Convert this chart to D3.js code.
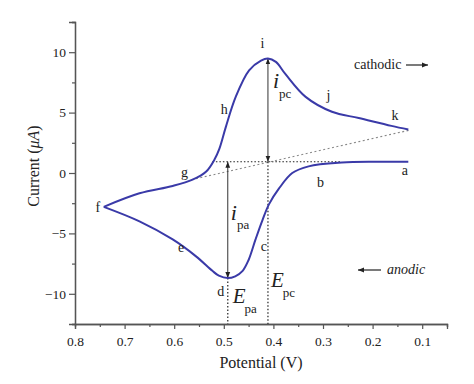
<!DOCTYPE html>
<html>
<head>
<meta charset="utf-8">
<script src="https://cdn.jsdelivr.net/npm/d3@7"></script>
<style>
  body { margin: 0; background: #fff; }
  svg text { font-family: "Liberation Serif", "DejaVu Serif", serif !important; fill: #222; }
</style>
</head>
<body>
<svg id="chart" width="474" height="384"></svg>
<script>
// scan from a (right) to the switching point f (left)
const lowerV = [0.128, 0.195, 0.262, 0.329, 0.362, 0.389, 0.409, 0.422, 0.436, 0.450, 0.462, 0.477, 0.492, 0.510, 0.523, 0.556, 0.603, 0.670, 0.742];
const lowerI = [0.93, 0.93, 0.86, 0.55, 0.0, -1.3, -2.6, -3.9, -5.5, -7.2, -8.1, -8.55, -8.7, -8.5, -8.1, -6.9, -5.5, -4.0, -2.8];
// reverse scan from f back to k
const upperV = [0.742, 0.670, 0.603, 0.563, 0.536, 0.519, 0.509, 0.496, 0.476, 0.449, 0.425, 0.411, 0.395, 0.376, 0.335, 0.282, 0.228, 0.162, 0.128];
const upperI = [-2.8, -1.68, -1.07, -0.55, 0.1, 1.1, 2.0, 3.8, 6.3, 8.5, 9.3, 9.48, 9.2, 8.2, 6.3, 5.07, 4.55, 3.9, 3.6];

const xTicks = [0.8, 0.7, 0.6, 0.5, 0.4, 0.3, 0.2, 0.1];
const xMinor = [0.75, 0.65, 0.55, 0.45, 0.35, 0.25, 0.15, 0.05];
const yTicks = [10, 5, 0, -5, -10];
const yMinor = [12.5, 7.5, 2.5, -2.5, -7.5, -12.5];

// peak values
const Epa = 0.492, ipaPeak = -8.7;
const Epc = 0.411, ipcPeak = 9.48;
const baseI = 0.93;
const baseRange = [0.523, 0.262];
const slopeLine = [[0.565, -0.55], [0.125, 3.55]];

const pointLabels = [
  ["a", 0.135, 0.25], ["b", 0.305, -0.72], ["c", 0.419, -6.09], ["d", 0.506, -9.81],
  ["e", 0.586, -6.14], ["f", 0.754, -2.79], ["g", 0.579, 0.08], ["h", 0.499, 5.33],
  ["i", 0.422, 10.74], ["j", 0.289, 6.45], ["k", 0.155, 4.79]
];

let svg = d3.select('#chart');
let margin = {left: 75, right: 27, top: 22, bottom: 60};
let W = 474, H = 384;
let serif = '"Liberation Serif", "DejaVu Serif", serif';

let x = d3.scaleLinear().domain([0.8, 0.05]).range([margin.left, W - margin.right]);
let y = d3.scaleLinear().domain([-12.5, 12.5]).range([H - margin.bottom, margin.top]);

// arrow heads
let defs = svg.append('defs');
['start', 'end'].forEach(function(k){
    defs.append('marker')
        .attr('id', 'arr-' + k)
        .attr('viewBox', '0 0 10 10')
        .attr('refX', k === 'end' ? 10 : 0)
        .attr('refY', 5)
        .attr('markerWidth', 6)
        .attr('markerHeight', 6)
        .attr('markerUnits', 'userSpaceOnUse')
        .attr('orient', 'auto')
        .append('path')
        .attr('d', k === 'end' ? 'M0,1 L10,5 L0,9 Z' : 'M10,1 L0,5 L10,9 Z')
        .attr('fill', '#222');
});

// axes
let axisColor = '#555';
let xAxis = svg.append('g').attr('transform', `translate(0,${y(-12.5)})`)
    .call(d3.axisBottom(x).tickValues(xTicks).tickSize(5).tickFormat(d3.format('.1f')));
let xAxisMinor = svg.append('g').attr('transform', `translate(0,${y(-12.5)})`)
    .call(d3.axisBottom(x).tickValues(xMinor).tickSize(3).tickFormat(''));
let yAxis = svg.append('g').attr('transform', `translate(${x(0.8)},0)`)
    .call(d3.axisLeft(y).tickValues(yTicks).tickSize(6));
let yAxisMinor = svg.append('g').attr('transform', `translate(${x(0.8)},0)`)
    .call(d3.axisLeft(y).tickValues(yMinor).tickSize(3).tickFormat(''));

[xAxis, xAxisMinor, yAxis, yAxisMinor].forEach(function(g){
    g.attr('font-family', serif);
    g.select('.domain').attr('stroke', axisColor).attr('stroke-width', 1.3);
    g.selectAll('.tick line').attr('stroke', axisColor).attr('stroke-width', 1.2);
    g.selectAll('.tick text')
        .style('font-family', serif)
        .attr('font-size', 13.5)
        .attr('fill', '#333');
});
xAxis.selectAll('.tick text').attr('dy', '1.05em');
yAxis.selectAll('.tick text').attr('x', -9);

// axis titles
svg.append('text')
    .attr('x', (x(0.8) + x(0.05)) / 2)
    .attr('y', 368)
    .attr('text-anchor', 'middle')
    .attr('font-size', 16)
    .text('Potential (V)');

let yt = svg.append('text')
    .attr('transform', `translate(39,166) rotate(-90)`)
    .attr('text-anchor', 'middle')
    .attr('font-size', 16);
yt.append('tspan').text('Current (');
yt.append('tspan').attr('font-style', 'italic').text('\u03bcA');
yt.append('tspan').text(')');

// baselines
svg.append('line')
    .attr('x1', x(baseRange[0])).attr('x2', x(baseRange[1]))
    .attr('y1', y(baseI)).attr('y2', y(baseI))
    .attr('stroke', '#222').attr('stroke-width', 1.2).attr('stroke-dasharray', '1.5,2');
svg.append('line')
    .attr('x1', x(slopeLine[0][0])).attr('y1', y(slopeLine[0][1]))
    .attr('x2', x(slopeLine[1][0])).attr('y2', y(slopeLine[1][1]))
    .attr('stroke', '#888').attr('stroke-width', 1.1).attr('stroke-dasharray', '2,2.5');

// vertical dotted lines down to the axis
[[Epa, ipaPeak], [Epc, baseI]].forEach(function(p){
    svg.append('line')
        .attr('x1', x(p[0])).attr('x2', x(p[0]))
        .attr('y1', y(p[1])).attr('y2', y(-12.5))
        .attr('stroke', '#333').attr('stroke-width', 1.3).attr('stroke-dasharray', '1.5,2');
});

// peak current arrows
[[Epc, baseI, ipcPeak], [Epa, baseI, ipaPeak]].forEach(function(p){
    svg.append('line')
        .attr('x1', x(p[0])).attr('x2', x(p[0]))
        .attr('y1', y(p[1])).attr('y2', y(p[2]))
        .attr('stroke', '#333').attr('stroke-width', 1)
        .attr('marker-start', 'url(#arr-start)')
        .attr('marker-end', 'url(#arr-end)');
});

// the voltammogram
let line = d3.line()
    .x(d => x(d[0]))
    .y(d => y(d[1]))
    .curve(d3.curveCatmullRom.alpha(0.5));
let lower = lowerV.map((v, i) => [v, lowerI[i]]);
let upper = upperV.map((v, i) => [v, upperI[i]]);
svg.append('g').selectAll('path')
    .data([lower, upper])
    .enter()
    .append('path')
    .attr('d', line)
    .attr('fill', 'none')
    .attr('stroke', '#3a3aa8')
    .attr('stroke-width', 2)
    .attr('stroke-linejoin', 'miter');

// point letters
svg.append('g').selectAll('text')
    .data(pointLabels)
    .enter()
    .append('text')
    .attr('x', d => x(d[1]))
    .attr('y', d => y(d[2]))
    .attr('dy', '0.35em')
    .attr('text-anchor', 'middle')
    .attr('font-size', 14)
    .text(d => d[0]);

// i_pc, i_pa, E_pa, E_pc labels
function subLabel(main, sub, px, py, big, small, dx, dy){
    let t = svg.append('text').attr('x', px).attr('y', py);
    t.append('tspan').attr('font-style', 'italic').attr('font-size', big).text(main);
    t.append('tspan').attr('font-size', small).attr('dx', dx).attr('dy', dy).text(sub);
}
subLabel('i', 'pc', x(Epc) + 5, y(7.0), 22, 13, 0, 10);
subLabel('i', 'pa', x(Epa) + 3, y(-3.9), 22, 13, 0, 9);
subLabel('E', 'pa', x(Epa) + 5, y(-10.8), 21, 13, -1, 10);
subLabel('E', 'pc', x(Epc) + 3, y(-9.4), 21, 13, -1, 10);

// scan direction notes
svg.append('text').attr('x', 354).attr('y', 69).attr('font-size', 14).text('cathodic');
svg.append('line').attr('x1', 406).attr('x2', 428).attr('y1', 65).attr('y2', 65)
    .attr('stroke', '#222').attr('stroke-width', 1.2).attr('marker-end', 'url(#arr-end)');
svg.append('text').attr('x', 387).attr('y', 274).attr('font-size', 14)
    .attr('font-style', 'italic').text('anodic');
svg.append('line').attr('x1', 381).attr('x2', 358).attr('y1', 270).attr('y2', 270)
    .attr('stroke', '#222').attr('stroke-width', 1.2).attr('marker-end', 'url(#arr-end)');
</script>
</body>
</html>
